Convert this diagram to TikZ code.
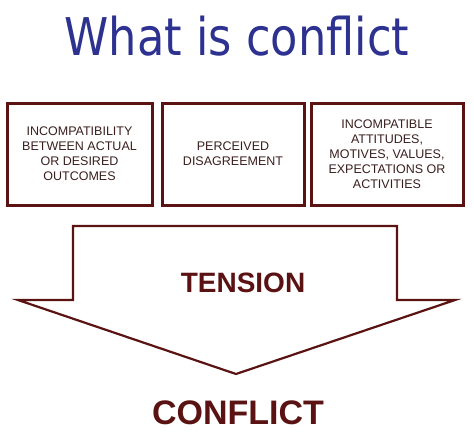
\documentclass[tikz,border=0pt]{standalone}
\usepackage{fontspec}
\setmainfont{Liberation Sans}
\newfontfamily\titlefont{DejaVu Sans}
\usetikzlibrary{positioning}
\definecolor{maroon}{HTML}{5A1212}
\definecolor{boxtext}{HTML}{3A1E1E}
\definecolor{titleblue}{HTML}{2D3290}

\begin{document}
\begin{tikzpicture}[x=1pt, y=-1pt,
    causebox/.style={draw=maroon, line width=3pt, minimum height=102pt, align=center, text=boxtext, font=\fontsize{12.5}{15}\selectfont, inner sep=2pt}]
    \useasboundingbox (0,0) rectangle (474,442);
    \node[font=\titlefont\fontsize{52}{56}\selectfont, text=titleblue] (title) at (237,36) {\scalebox{0.86}[1]{What is conflict}};
    \node[causebox, minimum width=145pt] (c1) at (79.5,154) {INCOMPATIBILITY\\BETWEEN ACTUAL\\OR DESIRED\\OUTCOMES};
    \node[causebox, minimum width=142pt] (c2) at (233,154) {PERCEIVED\\DISAGREEMENT};
    \node[causebox, minimum width=152pt] (c3) at (387,154) {INCOMPATIBLE\\ATTITUDES,\\MOTIVES, VALUES,\\EXPECTATIONS OR\\ACTIVITIES};
    % big arrow
    \draw[maroon, line width=2.2pt, line join=miter]
        (73,226) -- (397,226) -- (397,300) -- (455,300) -- (236,374) -- (18,300) -- (73,300) -- cycle;
    \node[font=\bfseries\fontsize{28}{30}\selectfont, text=maroon] (tension) at (243,283) {TENSION};
    \node[font=\bfseries\fontsize{34}{36}\selectfont, text=maroon] (conflict) at (238,413) {CONFLICT};
\end{tikzpicture}
\end{document}
